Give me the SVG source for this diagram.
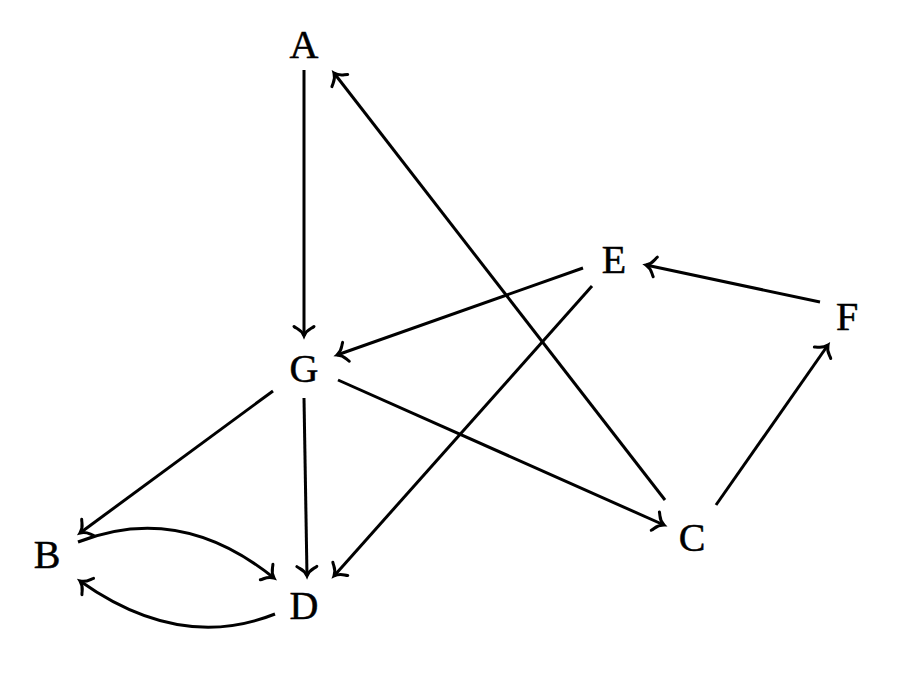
<svg xmlns="http://www.w3.org/2000/svg" width="902" height="674" viewBox="0 0 902 674">
<style>
.lbl{font-family:"Liberation Serif","DejaVu Serif",serif;font-size:40px;fill:#000;stroke:#000;stroke-width:0.5;text-anchor:middle;dominant-baseline:central}
.e{fill:none;stroke:#000;stroke-width:3;marker-end:url(#to)}
</style>
<defs>
<marker id="to" markerUnits="userSpaceOnUse" viewBox="-14 -12 16 24" markerWidth="16" markerHeight="24" refX="0" refY="0" orient="auto" overflow="visible">
<path d="M-9.5,-10 C-7,-7 -7,-3 0,0 C-7,3 -7,7 -9.5,10" fill="none" stroke="#000" stroke-width="3" stroke-linecap="round"/>
</marker>
</defs>
<g id="edges">
<path class="e" d="M304,70 L304,336"/>
<path class="e" d="M665,500 L334,73"/>
<path class="e" d="M583,268 L337,355"/>
<path class="e" d="M820,302 L646,265"/>
<path class="e" d="M716,505 L828,345"/>
<path class="e" d="M338,380 L664,525"/>
<path class="e" d="M592,286 L334,576"/>
<path class="e" d="M273,391 L80,533"/>
<path class="e" d="M304,398 L307,576"/>
<path class="e" d="M78,542 Q180,502 274,578"/>
<path class="e" d="M275,614 Q180,652 80,581"/>
</g>
<g id="A"><text class="lbl" x="304" y="44">A</text></g>
<g id="G"><text class="lbl" x="304" y="368">G</text></g>
<g id="B"><text class="lbl" x="47" y="554">B</text></g>
<g id="D"><text class="lbl" x="304" y="605">D</text></g>
<g id="C"><text class="lbl" x="692" y="537">C</text></g>
<g id="E"><text class="lbl" x="614" y="259">E</text></g>
<g id="F"><text class="lbl" x="847" y="316">F</text></g>
</svg>
